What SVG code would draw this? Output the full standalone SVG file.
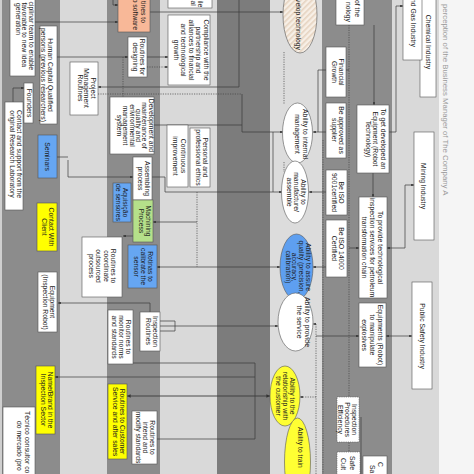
<svg xmlns="http://www.w3.org/2000/svg" width="474" height="474" viewBox="0 0 474 474">
<style>
.t{font-family:"Liberation Sans",Arial,sans-serif;font-size:6.8px;fill:#1a1a1a;text-anchor:middle}
.s{text-anchor:start}
.e{text-anchor:end}
.b{fill:#fff;stroke:#555;stroke-width:0.6}
.dt{stroke-dasharray:1.2 1}
.c{fill:none;stroke:#3a3a3a;stroke-width:0.7}
.cd{fill:none;stroke:#444;stroke-width:0.7;stroke-dasharray:1.2 1.2}
.ttl{font-family:"Liberation Sans",Arial,sans-serif;font-size:7.8px;fill:#9a9a9a;text-anchor:start}
</style>
<defs>
<marker id="a" viewBox="0 0 6 6" refX="6" refY="3" markerWidth="4" markerHeight="4" orient="auto-start-reverse"><path d="M0,0L6,3L0,6z" fill="#333"/></marker>
<pattern id="hatch" width="4" height="4" patternUnits="userSpaceOnUse" patternTransform="rotate(45)"><rect width="4" height="4" fill="#f7efe6"/><rect width="1.6" height="4" fill="#e6d3c0"/></pattern>
</defs>
<g id="bands">
<rect x="0" y="0" width="474" height="474" fill="#f5f5f5"/>
<rect x="0" y="0" width="2" height="474" fill="#cfcfcf"/>
<rect x="2" y="0" width="58" height="474" fill="#8c8c8c"/>
<rect x="60" y="0" width="47" height="474" fill="#d9d9d9"/>
<rect x="107" y="0" width="53" height="474" fill="#8c8c8c"/>
<rect x="160" y="0" width="57" height="474" fill="#d9d9d9"/>
<rect x="217" y="0" width="53" height="474" fill="#7c7c7c"/>
<rect x="270" y="0" width="52" height="474" fill="#dcdcdc"/>
<rect x="322" y="0" width="70" height="474" fill="#8c8c8c"/>
<rect x="392" y="0" width="47" height="474" fill="#d9d9d9"/>
</g>
<g id="connectors">
<path class="c" d="M35,22H118" marker-end="url(#a)"/>
<path class="c" d="M113,0V5H118" marker-end="url(#a)"/>
<path class="c" d="M150,12H283" marker-end="url(#a)"/>
<path class="c" d="M57,57H128" marker-end="url(#a)"/>
<path class="c" d="M147,57H168" marker-end="url(#a)"/>
<path class="cd" d="M147,67H168" marker-end="url(#a)"/>
<path class="cd" d="M123,57V97"/>
<path class="c" d="M239,0V87H98" marker-end="url(#a)"/>
<path class="cd" d="M98,94H242"/>
<path class="c" d="M242,94V132H283" marker-end="url(#a)"/>
<path class="c" d="M154,125H242"/>
<path class="c" d="M273,132V192"/>
<path class="cd" d="M284,52V104"/>
<path class="cd" d="M284,162V172"/>
<path class="c" d="M326,70H318V132H313" marker-end="url(#a)"/>
<path class="c" d="M318,132H326"/>
<path class="c" d="M13,102V88H24" marker-end="url(#a)"/>
<path class="c" d="M57,157H68"/>
<path class="c" d="M68,160V177H133" marker-end="url(#a)"/>
<path class="c" d="M152,177H165V192H282" marker-end="url(#a)"/>
<path class="c" d="M197,222H153" marker-end="url(#a)"/>
<path class="cd" d="M197,192V267"/>
<path class="c" d="M133,236H123" marker-end="url(#a)"/>
<path class="c" d="M157,267H280" marker-start="url(#a)" marker-end="url(#a)"/>
<path class="c" d="M326,267H313" marker-end="url(#a)"/>
<path class="c" d="M326,192H309" marker-end="url(#a)"/>
<path class="c" d="M58,303H150V312" marker-start="url(#a)"/>
<path class="c" d="M160,326H278" marker-end="url(#a)"/>
<path class="c" d="M160,321H175V331H160"/>
<path class="c" d="M133,363H255V439H157"/>
<path class="c" d="M55,377H255" marker-start="url(#a)"/>
<path class="c" d="M127,396H270" marker-start="url(#a)" marker-end="url(#a)" style="stroke-width:0.9"/>
<path class="cd" d="M316,324H313" marker-end="url(#a)"/>
<path class="cd" d="M316,324V474"/>
<path class="cd" d="M316,397H300" marker-end="url(#a)"/>
<path class="c" d="M316,336H359" marker-end="url(#a)"/>
<path class="cd" d="M349,25V474"/>
<path class="cd" d="M323,140V474"/>
<path class="c" d="M374,25V105" marker-end="url(#a)"/>
<path class="c" d="M373,173V197" marker-end="url(#a)"/>
<path class="c" d="M349,248H359" marker-end="url(#a)"/>
<path class="c" d="M349,70H326"/>
<path class="c" d="M389,132H396V6H403" marker-end="url(#a)"/>
<path class="c" d="M387,248H405V185H414" marker-start="url(#a)" marker-end="url(#a)"/>
<path class="c" d="M386,336H412" marker-start="url(#a)" marker-end="url(#a)"/>
<path class="c" d="M361,417V474"/>
</g>
<g id="nA1"><rect class="b" x="10" y="-40" width="25" height="116"/><text class="t e" transform="translate(28.7,70) rotate(90)"><tspan x="0" y="0">ciplinar team to enable</tspan><tspan x="-3" y="6.5">favorable to new idea</tspan></text><text class="t s" transform="translate(15.7,3) rotate(90)">generation</text></g>
<g id="nA3"><rect class="b" x="5" y="102" width="18" height="108"/><text class="t" transform="translate(16.7,154) rotate(90)"><tspan x="0" y="0">Contact and support from the</tspan><tspan x="0" y="6.5">original Research Laboratory</tspan></text></g>
<g id="nA2"><rect class="b" x="24" y="83" width="9" height="40"/><text class="t" transform="translate(26.7,103) rotate(90)">Founders</text></g>
<g id="nA4"><rect class="b" x="40" y="26" width="17" height="98"/><text class="t" transform="translate(47.7,75) rotate(90)"><tspan x="0" y="0">Human Capital Qualified</tspan><tspan x="0" y="7">persons (previous researchers)</tspan></text></g>
<g id="nA5"><rect class="b" x="38" y="135" width="19" height="43" style="fill:#66a6f2"/><text class="t" transform="translate(45.2,156.5) rotate(90)">Seminars</text></g>
<g id="nA6"><rect class="b" x="37" y="203" width="20" height="48" style="fill:#ffff00"/><text class="t" transform="translate(48.7,227) rotate(90)"><tspan x="0" y="0">Contact With</tspan><tspan x="0" y="6.5">Client</tspan></text></g>
<g id="nA7"><rect class="b" x="38" y="272" width="19" height="60"/><text class="t" transform="translate(49.7,302) rotate(90)"><tspan x="0" y="0">Equipment</tspan><tspan x="0" y="7">(Inspection Robot)</tspan></text></g>
<g id="nA8"><rect class="b" x="36" y="366" width="19" height="68" style="fill:#ffff00"/><text class="t" transform="translate(47.7,400) rotate(90)"><tspan x="0" y="0">Name/Brand in the</tspan><tspan x="0" y="7">Inspection Sector</tspan></text></g>
<g id="nA9"><rect class="b" x="3" y="407" width="32" height="80"/><text class="t s" transform="translate(24.7,411) rotate(90)"><tspan x="0" y="0">Técnico consultor co</tspan><tspan x="10" y="8">do mercado (pro</tspan></text></g>
<g id="nB1"><rect class="b" x="70" y="62" width="28" height="53"/><text class="t" transform="translate(90.7,88) rotate(90)"><tspan x="0" y="0">Project</tspan><tspan x="0" y="6.5">Management</tspan><tspan x="0" y="13">Routines</tspan></text></g>
<g id="nB2"><rect class="b" x="82" y="237" width="40" height="60"/><text class="t" transform="translate(110.7,266) rotate(90)"><tspan x="0" y="0">Routines to</tspan><tspan x="0" y="7.2">coordinate</tspan><tspan x="0" y="14.4">outsourced</tspan><tspan x="0" y="21.6">process</tspan></text></g>
<g id="nC1"><rect class="b" x="118" y="-40" width="32" height="72" style="fill:#f8b898"/><text class="t e" transform="translate(140.7,23) rotate(90)"><tspan x="0" y="0">tines to</tspan><tspan x="7" y="8">p software</tspan></text></g>
<g id="nC2"><rect class="b" x="128" y="37" width="19" height="40"/><text class="t" transform="translate(139.7,57) rotate(90)"><tspan x="0" y="0">Routines for</tspan><tspan x="0" y="7">designing</tspan></text></g>
<g id="nC3"><rect class="b" x="110" y="97" width="44" height="57"/><text class="t" transform="translate(148.7,125.5) rotate(90)"><tspan x="0" y="0">Development and</tspan><tspan x="0" y="6.4">maintenance of</tspan><tspan x="0" y="12.8">quality and</tspan><tspan x="0" y="19.2">environmental</tspan><tspan x="0" y="25.6">management</tspan><tspan x="0" y="32">system</tspan></text></g>
<g id="nC4"><rect class="b" x="133" y="157" width="19" height="43"/><text class="t" transform="translate(144.7,178.5) rotate(90)"><tspan x="0" y="0">Assembling</tspan><tspan x="0" y="7">process</tspan></text></g>
<g id="nC5"><rect class="b" x="113" y="183" width="18" height="39" style="fill:#66a6f2"/><text class="t" transform="translate(122.7,202.5) rotate(90)"><tspan x="0" y="0">Aquisição</tspan><tspan x="0" y="7">de sensores</tspan></text></g>
<g id="nC6"><rect class="b" x="133" y="200" width="20" height="42" style="fill:#b5e08a"/><text class="t" transform="translate(145.7,221) rotate(90)"><tspan x="0" y="0">Machining</tspan><tspan x="0" y="7">Process</tspan></text></g>
<g id="nC7"><rect class="b" x="128" y="245" width="29" height="43" style="fill:#66a6f2"/><text class="t" transform="translate(147.7,266.5) rotate(90)"><tspan x="0" y="0">Rotinas to</tspan><tspan x="0" y="7">calibrate the</tspan><tspan x="0" y="14">sensor</tspan></text></g>
<g id="nC8"><rect class="b" x="140" y="312" width="20" height="39"/><text class="t" transform="translate(152.7,331.5) rotate(90)"><tspan x="0" y="0">Inspection</tspan><tspan x="0" y="7">Routines</tspan></text></g>
<g id="nC9"><rect class="b" x="108" y="310" width="25" height="54"/><text class="t" transform="translate(125.7,337) rotate(90)"><tspan x="0" y="0">Routines to</tspan><tspan x="0" y="7">monitor norms</tspan><tspan x="0" y="14">and standards</tspan></text></g>
<g id="nC10"><rect class="b" x="108" y="384" width="19" height="75" style="fill:#ffff00"/><text class="t" transform="translate(119.7,421.5) rotate(90)"><tspan x="0" y="0">Routines to Customer</tspan><tspan x="0" y="7">Service and after sales</tspan></text></g>
<g id="nC11"><rect class="b" x="132" y="411" width="25" height="53"/><text class="t" transform="translate(149.7,437.5) rotate(90)"><tspan x="0" y="0">Routines to</tspan><tspan x="0" y="7">intend and</tspan><tspan x="0" y="14">modify standards</tspan></text></g>
<g id="nD0"><rect class="b" x="168" y="-40" width="44" height="48"/><text class="t s" transform="translate(197.7,0.5) rotate(90)"><tspan x="0" y="0">ile</tspan><tspan x="0" y="7">al</tspan></text></g>
<g id="nD1"><rect class="b" x="168" y="15" width="42" height="70"/><text class="t" transform="translate(203.7,50) rotate(90)"><tspan x="0" y="0">Compliance with the</tspan><tspan x="0" y="7.5">partnership and</tspan><tspan x="0" y="15">alliances to financial</tspan><tspan x="0" y="22.5">and technological</tspan><tspan x="0" y="30">growth</tspan></text></g>
<g id="nD2"><rect class="b" x="190" y="128" width="20" height="59"/><text class="t" transform="translate(202.7,157.5) rotate(90)"><tspan x="0" y="0">Personal and</tspan><tspan x="0" y="7">professional ethics</tspan></text></g>
<g id="nD3"><rect class="b" x="167" y="125" width="21" height="62"/><text class="t" transform="translate(180.7,156) rotate(90)"><tspan x="0" y="0">Continuous</tspan><tspan x="0" y="7.5">improvement</tspan></text></g>
<g id="nF1"><ellipse cx="300" cy="15" rx="17" ry="38" fill="url(#hatch)" stroke="#555" stroke-width="0.6"/><text class="t e" transform="translate(295.7,50) rotate(90)">velop technology</text></g>
<g id="nF2"><ellipse class="b" cx="297.5" cy="133" rx="15" ry="30"/><text class="t" transform="translate(302.7,134) rotate(90)"><tspan x="0" y="0">Ability to internal</tspan><tspan x="0" y="7.5">management</tspan></text></g>
<g id="nF3"><ellipse class="b" cx="295" cy="192" rx="13.5" ry="31"/><text class="t" transform="translate(300.7,192) rotate(90)"><tspan x="0" y="0">Ability to</tspan><tspan x="0" y="7">manufacture/</tspan><tspan x="0" y="14">assemble</tspan></text></g>
<g id="nF4"><ellipse class="b" cx="296.5" cy="267" rx="16.5" ry="33" style="fill:#5e9ff0"/><text class="t" transform="translate(305.7,267) rotate(90)"><tspan x="0" y="0">Ability to assure</tspan><tspan x="0" y="6.7">quality (precision,</tspan><tspan x="0" y="13.4">accuracy,</tspan><tspan x="0" y="20.1">calibration)</tspan></text></g>
<g id="nF5"><ellipse class="b" cx="295.5" cy="322" rx="17.5" ry="29"/><text class="t" transform="translate(304.7,322) rotate(90)"><tspan x="0" y="0">Ability to provide</tspan><tspan x="0" y="8">the service</tspan></text></g>
<g id="nF6"><ellipse class="b" cx="285" cy="396" rx="15" ry="30" style="fill:#ffff33"/><text class="t" transform="translate(289.7,396) rotate(90)"><tspan x="0" y="0">Ability to the</tspan><tspan x="0" y="7">relationship with</tspan><tspan x="0" y="14">the customer</tspan></text></g>
<g id="nF7"><ellipse class="b" cx="297.5" cy="462" rx="13" ry="44" style="fill:#ffff33"/><text class="t s" transform="translate(297.7,427) rotate(90)">Ability to train</text></g>
<g id="nG0"><rect class="b" x="336" y="-40" width="28" height="65"/><text class="t e" transform="translate(354.7,17) rotate(90)"><tspan x="0" y="0">of the</tspan><tspan x="5" y="9">nology</tspan></text></g>
<g id="nG1"><rect class="b" x="326" y="47" width="20" height="50"/><text class="t" transform="translate(338.7,72) rotate(90)"><tspan x="0" y="0">Financial</tspan><tspan x="0" y="7">Growth</tspan></text></g>
<g id="nG2"><rect class="b" x="326" y="103" width="20" height="55"/><text class="t" transform="translate(338.7,130) rotate(90)"><tspan x="0" y="0">Be approved as</tspan><tspan x="0" y="7">supplier</tspan></text></g>
<g id="nG3"><rect class="b" x="326" y="170" width="21" height="45"/><text class="t" transform="translate(338.7,192.5) rotate(90)"><tspan x="0" y="0">Be ISO</tspan><tspan x="0" y="7">9001certified</tspan></text></g>
<g id="nG4"><rect class="b" x="326" y="220" width="21" height="57"/><text class="t" transform="translate(338.7,248.5) rotate(90)"><tspan x="0" y="0">Be ISO 14000</tspan><tspan x="0" y="7">Certified</tspan></text></g>
<g id="nG5"><rect class="b" x="357" y="105" width="32" height="68"/><text class="t" transform="translate(380.7,139) rotate(90)"><tspan x="0" y="0">To get developed an</tspan><tspan x="0" y="7.5">Equipment (Robot</tspan><tspan x="0" y="15">Technology)</tspan></text></g>
<g id="nG6"><rect class="b" x="359" y="197" width="28" height="101"/><text class="t" transform="translate(377.7,247.5) rotate(90)"><tspan x="0" y="0">To provide technological</tspan><tspan x="0" y="8">inspection services for petroleum</tspan><tspan x="0" y="16">transformation chain</tspan></text></g>
<g id="nG7"><rect class="b" x="359" y="303" width="27" height="64"/><text class="t" transform="translate(377.7,335) rotate(90)"><tspan x="0" y="0">Equipments (Robot)</tspan><tspan x="0" y="8">to manipulate</tspan><tspan x="0" y="16">explosives</tspan></text></g>
<g id="nG8"><rect class="b dt" x="337" y="397" width="22" height="45"/><text class="t" transform="translate(351.7,419.5) rotate(90)"><tspan x="0" y="0">Inspection</tspan><tspan x="0" y="7">Procedures</tspan><tspan x="0" y="14">Efficiency</tspan></text></g>
<g id="nG9"><rect class="b dt" x="337" y="452" width="23" height="40"/><text class="t s" transform="translate(349.7,456) rotate(90)"><tspan x="0" y="0">Safe</tspan><tspan x="2" y="9">Cult</tspan></text></g>
<g id="nG10"><rect class="b" x="363" y="456" width="24" height="40"/><text class="t s" transform="translate(377.7,462) rotate(90)"><tspan x="0" y="0">C</tspan><tspan x="3" y="8">Sa</tspan></text></g>
<g id="nH2"><rect class="b" x="420" y="-20" width="16" height="117"/><text class="t" transform="translate(425.7,42) rotate(90)">Chemical Industry</text></g>
<g id="nH1"><rect class="b" x="403" y="-20" width="19" height="80"/><text class="t e" transform="translate(410.7,47) rotate(90)">nd Gas Industry</text></g>
<g id="nH3"><rect class="b" x="414" y="132" width="20" height="108"/><text class="t" transform="translate(420.7,186) rotate(90)">Mining Industry</text></g>
<g id="nH4"><rect class="b" x="412" y="282" width="20" height="107"/><text class="t" transform="translate(419.7,336) rotate(90)">Public Safety Industry</text></g>
<g id="title"><text class="ttl" transform="translate(443,4) rotate(90)">perception of the Business Manager of The Company A</text></g>
</svg>
